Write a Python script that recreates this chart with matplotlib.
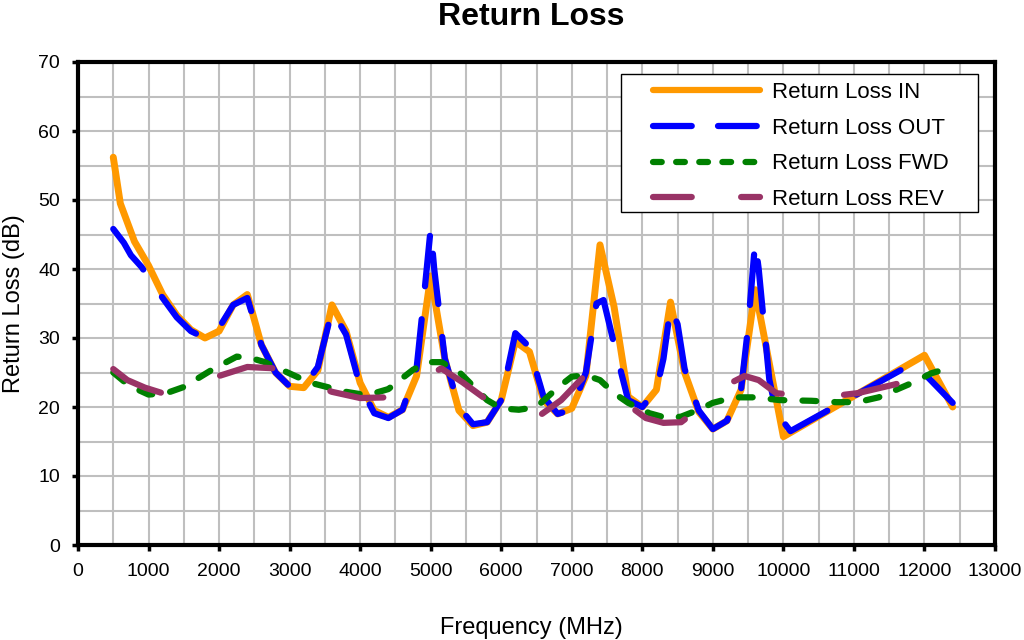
import matplotlib
matplotlib.use('Agg')
import matplotlib.pyplot as plt
from matplotlib.ticker import MultipleLocator
from matplotlib.lines import Line2D
from matplotlib.patches import Rectangle

plt.rcParams['font.family'] = ['Liberation Sans', 'DejaVu Sans']

# Return Loss IN
freq_in = [500, 600, 800, 1000, 1200, 1400, 1600, 1800, 2000, 2200, 2400, 2600, 2800,
           3000, 3200, 3400, 3600, 3800, 4000, 4200, 4400, 4600, 4800, 5000, 5200, 5400,
           5600, 5800, 6000, 6200, 6400, 6600, 6800, 7000, 7200, 7400, 7600, 7800, 8000,
           8200, 8400, 8600, 8800, 9000, 9200, 9400, 9600, 10000, 12000, 12400]
rl_in = [56.2, 49.5, 44.0, 40.5, 36.3, 33.3, 31.2, 30.0, 31.0, 34.8, 36.3, 29.0, 25.0,
         23.0, 22.8, 25.3, 34.8, 31.0, 23.5, 19.5, 18.5, 19.6, 24.5, 39.0, 27.0, 19.5,
         17.3, 17.8, 21.0, 29.5, 28.0, 21.0, 19.0, 19.8, 24.5, 43.5, 34.5, 21.5, 20.0,
         22.5, 35.2, 25.0, 19.3, 16.8, 18.0, 22.5, 37.0, 15.7, 27.5, 20.0]

# Return Loss OUT
freq_out = [500, 650, 750, 900, 1200, 1400, 1600, 1800, 2000, 2200, 2400, 2600, 2800,
            3000, 3200, 3400, 3600, 3800, 4000, 4200, 4400, 4600, 4800, 4900, 5000, 5050,
            5200, 5400, 5600, 5800, 6000, 6200, 6400, 6500, 6600, 6800, 7000, 7200, 7350,
            7450, 7650, 7800, 8000, 8200, 8300, 8400, 8500, 8600, 8800, 9000, 9200, 9400,
            9500, 9600, 9650, 9800, 9900, 10100, 11850, 12400]
rl_out = [45.8, 43.8, 42.0, 40.3, 35.8, 33.0, 31.0, 30.0, 31.5, 34.8, 35.8, 29.0, 25.0,
          23.0, 23.0, 25.8, 34.0, 30.5, 23.0, 19.1, 18.4, 19.6, 25.6, 35.5, 45.9, 40.0,
          27.0, 20.0, 17.5, 17.8, 21.0, 30.7, 28.7, 25.0, 21.5, 19.0, 19.6, 25.0, 35.0,
          35.5, 27.0, 21.0, 20.0, 22.5, 27.0, 34.5, 32.0, 25.5, 19.5, 16.8, 18.0, 22.5,
          31.6, 44.0, 40.0, 24.0, 19.2, 16.5, 26.4, 20.6]

# Return Loss FWD
freq_fwd = [500, 700, 850, 1000, 1250, 1500, 1900, 2250, 2450, 2650, 3100, 3300, 3800,
            4100, 4400, 4750, 4950, 5150, 5400, 5800, 6000, 6250, 6500, 6800, 7000, 7200,
            7400, 7600, 7800, 8100, 8350, 8550, 8800, 9000, 9300, 9600, 9950, 10400,
            10750, 11050, 11350, 11850, 12100, 12400]
rl_fwd = [25.0, 23.3, 22.5, 21.8, 22.0, 22.9, 25.4, 27.3, 27.1, 26.5, 24.4, 23.5, 22.2,
          21.7, 22.6, 25.4, 26.5, 26.5, 25.1, 21.0, 19.8, 19.6, 20.0, 22.8, 24.4, 24.6,
          23.9, 22.0, 20.6, 19.1, 18.4, 18.6, 19.6, 20.6, 21.4, 21.4, 21.0, 20.9,
          20.7, 20.7, 21.4, 23.6, 24.9, 25.8]

# Return Loss REV
freq_rev = [500, 700, 950, 1200, 1600, 2000, 2400, 2800, 3200, 3600, 4000, 4400, 4800,
            5150, 5450, 5800, 6200, 6550, 6850, 7150, 7500, 7800, 8050, 8300, 8550, 8900,
            9200, 9450, 9650, 9900, 10400, 10800, 11050, 11550, 12400]
rl_rev = [25.5, 23.9, 22.8, 22.0, 22.6, 24.5, 25.8, 25.6, 23.8, 22.2, 21.3, 21.4, 23.5,
          25.6, 23.6, 21.0, 19.6, 18.8, 21.0, 24.2, 22.2, 20.3, 18.4, 17.7, 17.8, 20.5,
          23.2, 24.5, 23.9, 22.0, 21.5, 21.7, 22.0, 23.2, 25.4]

labels = ['Return Loss IN', 'Return Loss OUT', 'Return Loss FWD', 'Return Loss REV']
colors = ['#FF9900', '#0000FF', '#008000', '#993366']

W, H = 1024, 640
fig = plt.figure(figsize=(W / 100, H / 100), dpi=100)
ax = fig.add_axes([78 / W, 1 - 545 / H, (995 - 78) / W, (545 - 62) / H])

lw = 4.5
ax.plot(freq_in, rl_in, color=colors[0], lw=lw + 0.5, solid_capstyle='round',
        solid_joinstyle='round')
ax.plot(freq_out, rl_out, color=colors[1], lw=lw, linestyle=(0, (8.1, 5.3)),
        dash_capstyle='round', dash_joinstyle='round')
ax.plot(freq_fwd, rl_fwd, color=colors[2], lw=lw, linestyle=(0, (2.2, 2.9)),
        dash_capstyle='round', dash_joinstyle='round')
ax.plot(freq_rev, rl_rev, color=colors[3], lw=lw, linestyle=(0, (8.6, 10.0)),
        dash_capstyle='round', dash_joinstyle='round')

ax.set_xlim(0, 13000)
ax.set_ylim(0, 70)
ax.xaxis.set_major_locator(MultipleLocator(1000))
ax.xaxis.set_minor_locator(MultipleLocator(500))
ax.yaxis.set_major_locator(MultipleLocator(10))
ax.yaxis.set_minor_locator(MultipleLocator(5))
ax.grid(which='both', color='#BFBFBF', lw=1.5)
ax.set_axisbelow(True)
ax.tick_params(which='major', direction='out', length=4, width=2.5, labelsize=14, color='black')
ax.tick_params(axis='x', pad=9)
ax.tick_params(axis='y', pad=9)
ax.tick_params(which='minor', length=0)
for sp in ax.spines.values():
    sp.set_linewidth(3)
    sp.set_color('black')

ax.set_xlabel('Frequency (MHz)', fontsize=17)
ax.xaxis.set_label_coords((531 - 78) / 917, -0.15)
ax.set_ylabel('Return Loss (dB)', fontsize=17)
ax.yaxis.set_label_coords(-0.058, 0.5)

fig.text(0.519, 1 - 25 / H, 'Return Loss', ha='center', va='baseline',
         fontsize=23, fontweight='bold')

# legend: box drawn separately, handles with the shorter legend dash patterns
box = Rectangle((621 / W, 1 - 212 / H), (978 - 621) / W, (212 - 74) / H,
                transform=fig.transFigure, facecolor='white', edgecolor='black',
                lw=1, zorder=4, clip_on=False)
ax.add_patch(box)
handles = [
    Line2D([], [], color=colors[0], lw=lw, solid_capstyle='round'),
    Line2D([], [], color=colors[1], lw=lw, linestyle=(0, (6.2, 4.2)), dash_capstyle='round'),
    Line2D([], [], color=colors[2], lw=lw, linestyle=(0, (1.4, 2.3)), dash_capstyle='round'),
    Line2D([], [], color=colors[3], lw=lw, linestyle=(0, (6.2, 7.9)), dash_capstyle='round'),
]
leg = ax.legend(handles, labels, loc='upper left', bbox_to_anchor=(653 / W, 1 - 82 / H),
                bbox_transform=fig.transFigure, fontsize=16, handlelength=4.8,
                handletextpad=0.55, labelspacing=0.66, borderpad=0, borderaxespad=0,
                frameon=False)
leg.set_zorder(5)

fig.savefig('out.png', dpi=100)
